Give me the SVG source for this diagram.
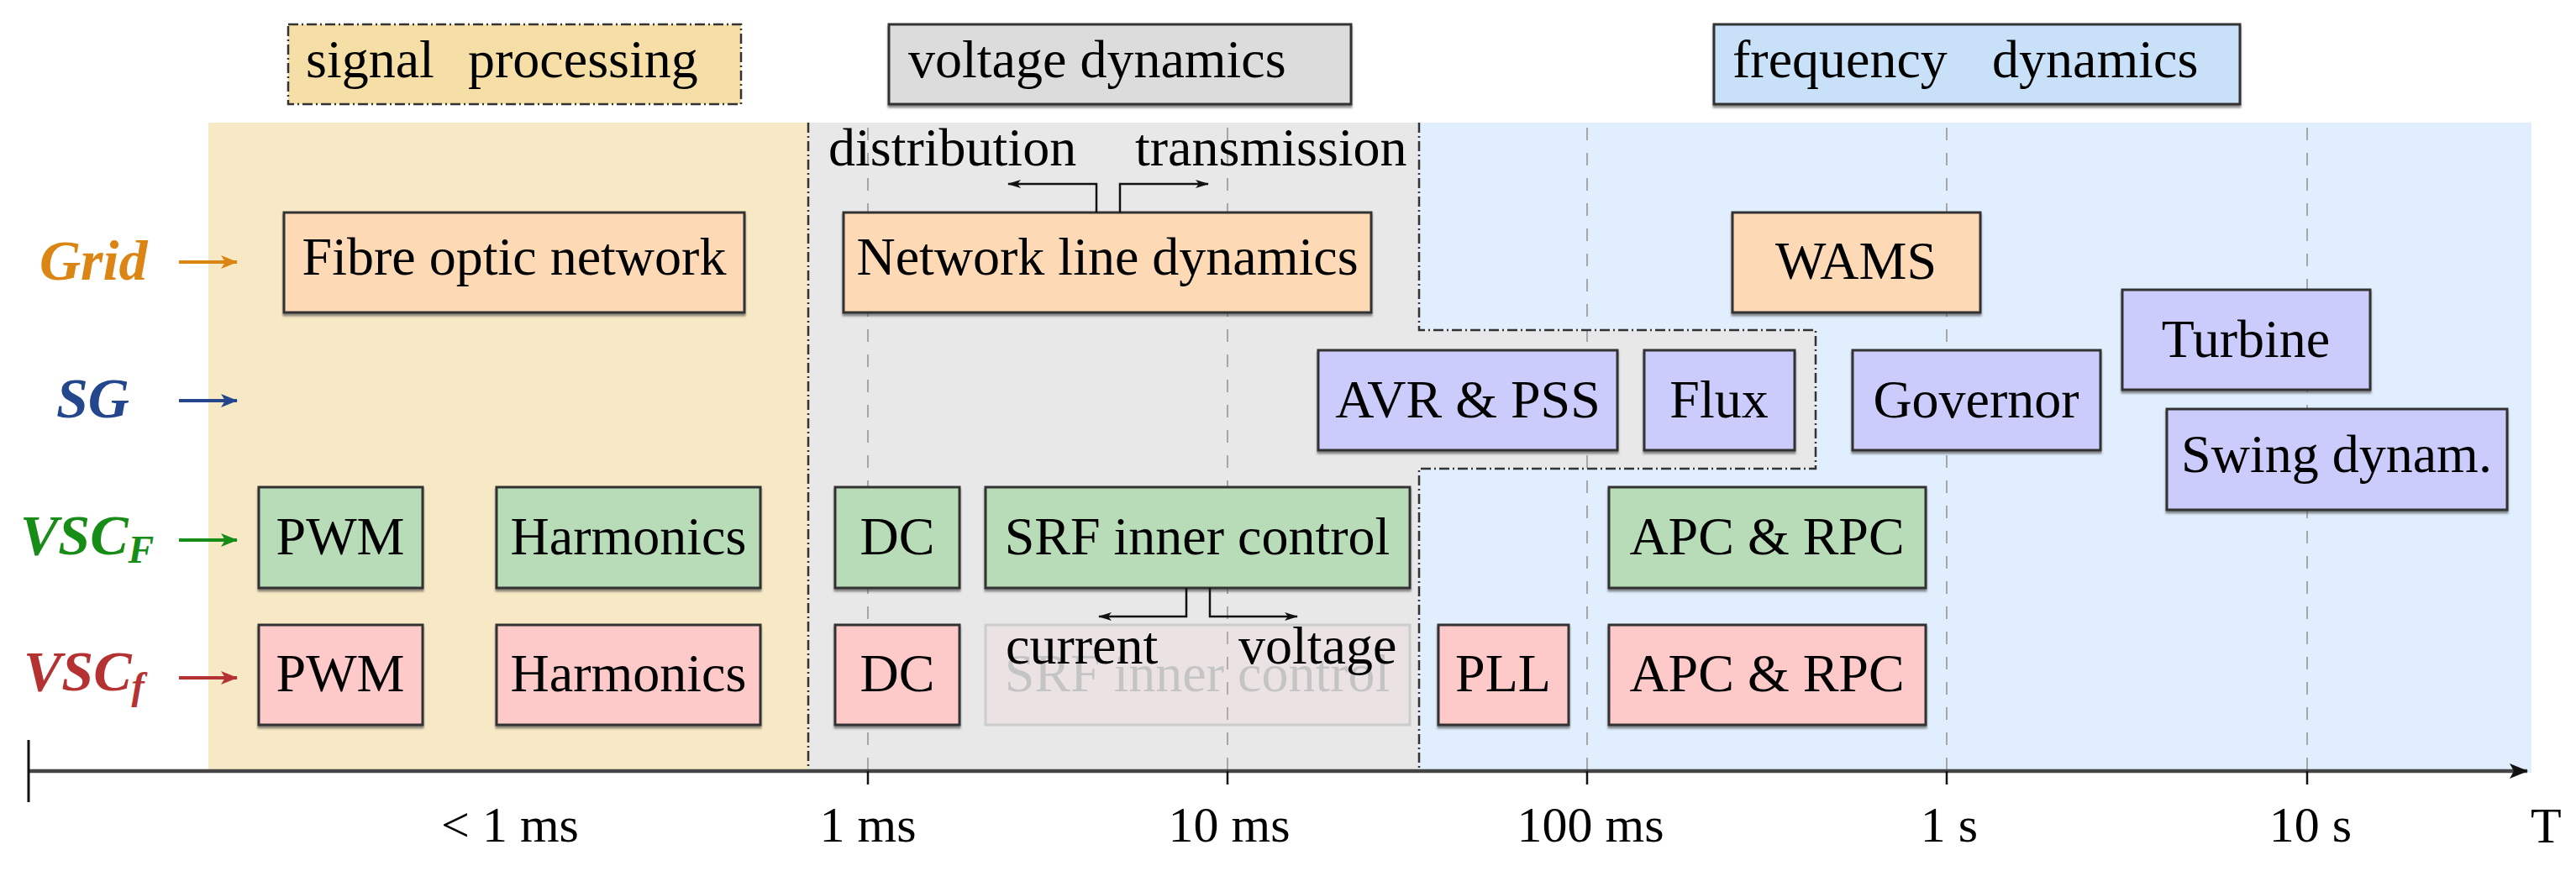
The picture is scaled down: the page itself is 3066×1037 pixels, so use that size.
<svg xmlns="http://www.w3.org/2000/svg" width="3066" height="1037" viewBox="0 0 3066 1037">
<style>
text{font-family:"Liberation Serif","Times New Roman",serif;font-size:64px;fill:#000}
.c{text-anchor:middle}
.lab{font-weight:bold;font-style:italic;font-size:68px}
.sub{font-weight:bold;font-style:italic;font-size:46px}
.ax{font-size:60px;text-anchor:middle}
.box{stroke:#333;stroke-width:3;filter:url(#sh)}
.peach{fill:#fdd9b5}.purple{fill:#ccccfc}.green{fill:#b8dcb8}.pink{fill:#fec9c9}
.grid{stroke:#a6a6a6;stroke-width:2;stroke-dasharray:15 15;fill:none}
.dd{stroke:#333;stroke-width:2.5;stroke-dasharray:12 4 2 4;fill:none}
.con{stroke:#111;stroke-width:2.5;fill:none}
.tick{stroke:#111;stroke-width:2.5}
</style>
<defs>
<filter id="sh" x="-5%" y="-10%" width="110%" height="125%">
<feDropShadow dx="0" dy="3" stdDeviation="1" flood-color="#444" flood-opacity="0.6"/>
</filter>
<marker id="ak" viewBox="0 0 16 10" refX="15" refY="5" markerWidth="16" markerHeight="10" orient="auto" markerUnits="userSpaceOnUse"><path d="M0,0 L16,5 L0,10 L4,5 z" fill="#111"/></marker>
<marker id="aax" viewBox="0 0 22 18" refX="21" refY="9" markerWidth="22" markerHeight="18" orient="auto" markerUnits="userSpaceOnUse"><path d="M0,0 L22,9 L0,18 L5,9 z" fill="#111"/></marker>
<marker id="ao" viewBox="0 0 20 16" refX="19" refY="8" markerWidth="20" markerHeight="16" orient="auto" markerUnits="userSpaceOnUse"><path d="M0,0 L20,8 L0,16 L5,8 z" fill="#db8614"/></marker>
<marker id="ab" viewBox="0 0 20 16" refX="19" refY="8" markerWidth="20" markerHeight="16" orient="auto" markerUnits="userSpaceOnUse"><path d="M0,0 L20,8 L0,16 L5,8 z" fill="#23468c"/></marker>
<marker id="ag" viewBox="0 0 20 16" refX="19" refY="8" markerWidth="20" markerHeight="16" orient="auto" markerUnits="userSpaceOnUse"><path d="M0,0 L20,8 L0,16 L5,8 z" fill="#178c17"/></marker>
<marker id="ar" viewBox="0 0 20 16" refX="19" refY="8" markerWidth="20" markerHeight="16" orient="auto" markerUnits="userSpaceOnUse"><path d="M0,0 L20,8 L0,16 L5,8 z" fill="#b53232"/></marker>
</defs>

<g id="regions">
<rect x="1689" y="146" width="1324" height="774" fill="#e0eefd"/>
<rect x="248" y="146" width="714" height="773" fill="#f8e9c6"/>
<rect x="962" y="146" width="727" height="773" fill="#e8e8e8"/>
<rect x="1688" y="393" width="473" height="165" fill="#e8e8e8"/>
</g>

<g id="gridlines">
<line class="grid" x1="1033" y1="152" x2="1033" y2="918"/>
<line class="grid" x1="1461" y1="152" x2="1461" y2="918"/>
<line class="grid" x1="1889" y1="152" x2="1889" y2="918"/>
<line class="grid" x1="2317" y1="152" x2="2317" y2="918"/>
<line class="grid" x1="2746" y1="152" x2="2746" y2="918"/>
</g>

<g id="boundaries">
<line class="dd" x1="962" y1="146" x2="962" y2="918"/>
<path class="dd" d="M1689,146 V393 H2161 V558 H1689 V918"/>
</g>

<g id="axis">
<line x1="34" y1="918" x2="3008" y2="918" stroke="#444" stroke-width="4.5" marker-end="url(#aax)"/>
<line x1="34" y1="881" x2="34" y2="955" stroke="#111" stroke-width="3"/>
<line class="tick" x1="1033" y1="918" x2="1033" y2="934"/>
<line class="tick" x1="1461" y1="918" x2="1461" y2="934"/>
<line class="tick" x1="1889" y1="918" x2="1889" y2="934"/>
<line class="tick" x1="2317" y1="918" x2="2317" y2="934"/>
<line class="tick" x1="2746" y1="918" x2="2746" y2="934"/>
<text class="ax" x="607" y="1002">&lt; 1 ms</text>
<text class="ax" x="1033" y="1002">1 ms</text>
<text class="ax" x="1463" y="1002">10 ms</text>
<text class="ax" x="1893" y="1002">100 ms</text>
<text class="ax" x="2320" y="1002">1 s</text>
<text class="ax" x="2750" y="1002">10 s</text>
<text x="3012" y="1003" style="font-size:60px">T</text>
</g>

<g id="hdr-signal">
<rect x="343" y="29" width="539" height="95" fill="#f6dfa6" class="dd" style="fill:#f6dfa6"/>
<text y="92"><tspan x="364">signal</tspan><tspan x="557">processing</tspan></text>
</g>
<g id="hdr-voltage">
<rect x="1058" y="29" width="550" height="95" fill="#dcdcdc" class="box"/>
<text x="1081" y="92">voltage dynamics</text>
</g>
<g id="hdr-frequency">
<rect x="2040" y="29" width="626" height="95" fill="#c8e1f8" class="box"/>
<text y="92"><tspan x="2062">frequency</tspan><tspan x="2371">dynamics</tspan></text>
</g>

<g id="row-labels">
<text class="lab" x="47" y="333" fill="#db8614" style="fill:#db8614">Grid</text>
<text class="lab" x="67" y="497" style="fill:#23468c">SG</text>
<text x="24" y="660" style="fill:#178c17"><tspan class="lab">VSC</tspan><tspan class="sub" dy="10">F</tspan></text>
<text x="28" y="822" style="fill:#b53232"><tspan class="lab">VSC</tspan><tspan class="sub" dy="10">f</tspan></text>
</g>

<g id="n-fibre"><rect class="box peach" x="338" y="253" width="548" height="119"/><text class="c" x="612" y="327">Fibre optic network</text></g>
<g id="n-netline"><rect class="box peach" x="1004" y="253" width="628" height="119"/><text class="c" x="1318" y="327">Network line dynamics</text></g>
<g id="n-wams"><rect class="box peach" x="2062" y="253" width="295" height="119"/><text class="c" x="2209" y="332">WAMS</text></g>

<g id="n-avr"><rect class="box purple" x="1569" y="417" width="356" height="119"/><text class="c" x="1747" y="497">AVR &amp; PSS</text></g>
<g id="n-flux"><rect class="box purple" x="1957" y="417" width="179" height="119"/><text class="c" x="2046" y="497">Flux</text></g>
<g id="n-governor"><rect class="box purple" x="2205" y="417" width="295" height="119"/><text class="c" x="2352" y="497">Governor</text></g>
<g id="n-turbine"><rect class="box purple" x="2526" y="345" width="295" height="119"/><text class="c" x="2673" y="425">Turbine</text></g>
<g id="n-swing"><rect class="box purple" x="2579" y="487" width="405" height="120"/><text class="c" x="2781" y="562">Swing dynam.</text></g>

<g id="n-pwm-F"><rect class="box green" x="308" y="580" width="195" height="120"/><text class="c" x="405" y="660">PWM</text></g>
<g id="n-harm-F"><rect class="box green" x="591" y="580" width="314" height="120"/><text class="c" x="748" y="660">Harmonics</text></g>
<g id="n-dc-F"><rect class="box green" x="994" y="580" width="148" height="120"/><text class="c" x="1068" y="660">DC</text></g>
<g id="n-srf-F"><rect class="box green" x="1173" y="580" width="505" height="120"/><text class="c" x="1425" y="660">SRF inner control</text></g>
<g id="n-apc-F"><rect class="box green" x="1915" y="580" width="377" height="120"/><text class="c" x="2103" y="660">APC &amp; RPC</text></g>

<g id="n-pwm-f"><rect class="box pink" x="308" y="744" width="195" height="119"/><text class="c" x="405" y="823">PWM</text></g>
<g id="n-harm-f"><rect class="box pink" x="591" y="744" width="314" height="119"/><text class="c" x="748" y="823">Harmonics</text></g>
<g id="n-dc-f"><rect class="box pink" x="994" y="744" width="148" height="119"/><text class="c" x="1068" y="823">DC</text></g>
<g id="n-srf-f" opacity="0.15"><rect class="pink" x="1173" y="744" width="505" height="119" stroke="#333" stroke-width="3"/><text class="c" x="1425" y="823">SRF inner control</text></g>
<g id="n-pll"><rect class="box pink" x="1712" y="744" width="155" height="119"/><text class="c" x="1789" y="823">PLL</text></g>
<g id="n-apc-f"><rect class="box pink" x="1915" y="744" width="377" height="119"/><text class="c" x="2103" y="823">APC &amp; RPC</text></g>

<g id="connectors">
<line x1="213" y1="312" x2="282" y2="312" stroke="#db8614" stroke-width="4" marker-end="url(#ao)"/>
<line x1="213" y1="477" x2="282" y2="477" stroke="#23468c" stroke-width="4" marker-end="url(#ab)"/>
<line x1="213" y1="643" x2="282" y2="643" stroke="#178c17" stroke-width="4" marker-end="url(#ag)"/>
<line x1="213" y1="807" x2="282" y2="807" stroke="#b53232" stroke-width="4" marker-end="url(#ar)"/>
<path class="con" d="M1305,253 V219 H1200" marker-end="url(#ak)"/>
<path class="con" d="M1333,253 V219 H1438" marker-end="url(#ak)"/>
<path class="con" d="M1412,700 V734 H1308" marker-end="url(#ak)"/>
<path class="con" d="M1440,700 V734 H1544" marker-end="url(#ak)"/>
</g>

<g id="conn-labels">
<text x="986" y="197">distribution</text>
<text x="1351" y="197">transmission</text>
<text x="1197" y="790">current</text>
<text x="1474" y="790">voltage</text>
</g>
</svg>
